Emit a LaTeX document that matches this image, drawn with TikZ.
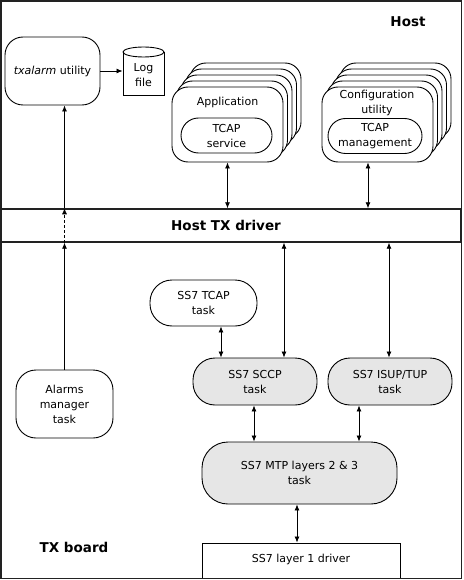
\documentclass[tikz,border=0pt]{standalone}
\usepackage{fontspec}
\setmainfont{DejaVu Sans}
\usetikzlibrary{arrows.meta,calc}
\definecolor{taskgray}{HTML}{E6E6E6}
\definecolor{framec}{HTML}{222222}
\tikzset{
  base/.style={draw=black, line width=0.9pt, fill=white, align=center, inner sep=0pt,
    font=\fontsize{11}{15}\selectfont},
  rbox/.style={base, rounded corners=#1},
  graytask/.style={base, fill=taskgray, rounded corners=#1},
  lbl/.style={font=\fontsize{13.5}{16}\selectfont\bfseries, inner sep=0pt},
  conn/.style={line width=0.8pt, draw=black, {Latex[length=6pt,width=5pt]}-{Latex[length=6pt,width=5pt]}},
  upconn/.style={line width=0.8pt, draw=black, -{Latex[length=6pt,width=5pt]}},
}
\begin{document}
\begin{tikzpicture}[x=1pt,y=-1pt]
\useasboundingbox (0,0) rectangle (463,580);
\fill[white] (0,0) rectangle (463,580);

% band
\node[draw=framec, line width=1.4pt, minimum width=460pt, minimum height=33pt, inner sep=0pt] (drv) at (231,225.5) {};
\node[lbl] (drvtxt) at (226,225) {Host TX driver};

% host
\node[lbl] (hostlbl) at (408,22) {Host};
\node[rbox=18pt, minimum width=95pt, minimum height=68pt] (txalarm) at (52.5,71) {\textit{txalarm} utility};

% log file cylinder
\draw[line width=0.9pt, fill=white] (123,52) -- (123,95) -- (164,95) -- (164,52);
\draw[line width=0.9pt, fill=white] (143.5,52) ellipse [x radius=20.5, y radius=5];
\node[base, draw=none, fill=none, minimum width=41pt, minimum height=40pt] (log) at (143.5,75) {Log\\file};

% application stack
\foreach \k in {4,3,2,1}{
  \draw[line width=0.9pt, fill=white, rounded corners=16pt]
    ({172+4.5*\k},{87-6*\k}) rectangle ({283+4.5*\k},{162-6*\k});
}
\node[rbox=16pt, minimum width=111pt, minimum height=75pt] (app) at (227.5,124.5) {};
\node[base, draw=none, fill=none] (apptxt) at (227.5,102) {Application};
\node[rbox=17.5pt, minimum width=91pt, minimum height=35pt] (tsvc) at (226.5,135.5) {TCAP\\service};

% configuration stack
\foreach \k in {4,3,2,1}{
  \draw[line width=0.9pt, fill=white, rounded corners=16pt]
    ({322+4.5*\k},{87-6*\k}) rectangle ({433+4.5*\k},{162-6*\k});
}
\node[rbox=16pt, minimum width=111pt, minimum height=75pt] (cfg) at (377.5,124.5) {};
\node[base, draw=none, fill=none] (cfgtxt) at (377,103) {Configuration\\utility};
\node[rbox=17.5pt, minimum width=94pt, minimum height=35pt] (tmgmt) at (375,136) {TCAP\\management};

% TX board
\node[lbl] (txlbl) at (74,547) {TX board};
\node[rbox=20pt, minimum width=97pt, minimum height=68pt] (alarm) at (64.5,404) {Alarms\\manager\\task};
\node[rbox=22pt, minimum width=107pt, minimum height=46pt] (tcap) at (203.5,303) {SS7 TCAP\\task};
\node[graytask=22pt, minimum width=124pt, minimum height=47pt] (sccp) at (255,381.5) {SS7 SCCP\\task};
\node[graytask=22pt, minimum width=124pt, minimum height=47pt] (isup) at (390,381.5) {SS7 ISUP/TUP\\task};
\node[graytask=26pt, minimum width=195pt, minimum height=62pt] (mtp) at (299.5,473) {SS7 MTP layers 2 \& 3\\task};
\node[base, rounded corners=0pt, minimum width=198pt, minimum height=35pt] (l1) at (301,560.5) {};
\node[base, draw=none, fill=none] (l1txt) at (301,559) {SS7 layer 1 driver};

% frame
\draw[framec, line width=1.5pt] (1,1) rectangle (461.5,578.5);

% connectors
\draw[upconn] (txalarm.east) -- (log.west |- txalarm.east);
\draw[upconn] (alarm.north) -- (alarm.north |- drv.south);
\draw[upconn, dashed, dash pattern=on 3pt off 2pt] (alarm.north |- drv.south) -- (alarm.north |- drv.north);
\draw[upconn] (alarm.north |- drv.north) -- (alarm.north |- txalarm.south);
\draw[conn] (app.south) -- (app.south |- drv.north);
\draw[conn] ([xshift=-9.5pt]cfg.south) -- ([xshift=-9.5pt]cfg.south |- drv.north);
\draw[conn] ([xshift=17.5pt]tcap.south) -- ([xshift=17.5pt]tcap.south |- sccp.north);
\draw[conn] ([xshift=29pt]sccp.north) -- ([xshift=29pt]sccp.north |- drv.south);
\draw[conn] ([xshift=-1pt]isup.north) -- ([xshift=-1pt]isup.north |- drv.south);
\draw[conn] ([xshift=-1pt]sccp.south) -- ([xshift=-1pt]sccp.south |- mtp.north);
\draw[conn] ([xshift=-31pt]isup.south) -- ([xshift=-31pt]isup.south |- mtp.north);
\draw[conn] ([xshift=-2.5pt]mtp.south) -- ([xshift=-2.5pt]mtp.south |- l1.north);
\end{tikzpicture}
\end{document}
